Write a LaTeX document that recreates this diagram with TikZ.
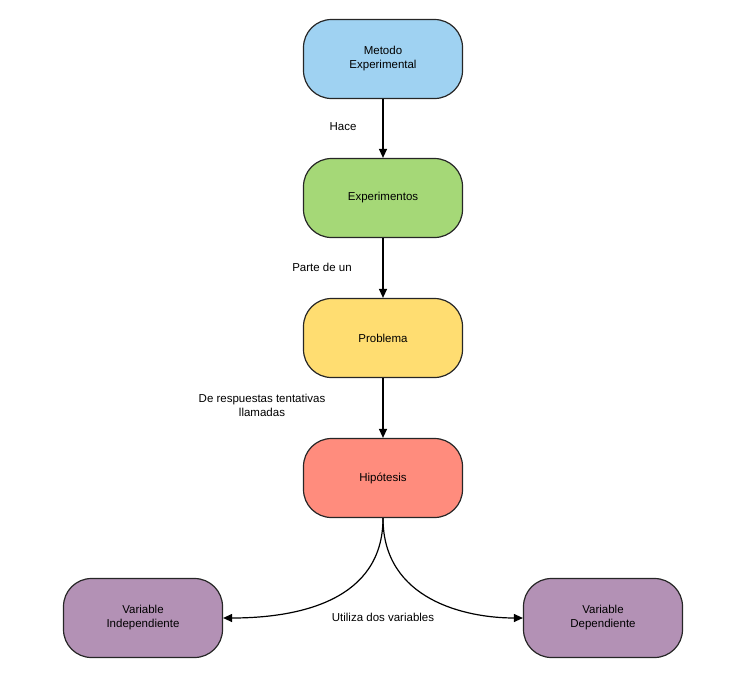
\documentclass[tikz,border=0pt]{standalone}
\usepackage{fontspec}
\setmainfont{Liberation Sans}
\usetikzlibrary{arrows.meta}
\begin{document}
\begin{tikzpicture}[x=1pt,y=-1pt,
 box/.style={draw=black!85,line width=1.2pt,rounded corners=28pt,minimum width=159pt,minimum height=79pt,align=center,font=\fontsize{11.5}{14}\selectfont},
 lab/.style={font=\fontsize{11.5}{14}\selectfont,align=center},
 arr/.style={line width=1.2pt,-{Triangle[length=9pt,width=8pt]}}]
\useasboundingbox (0,0) rectangle (737,678);
\definecolor{cb}{HTML}{9FD2F2}\definecolor{cg}{HTML}{A5D877}\definecolor{cy}{HTML}{FFDD71}
\definecolor{cr}{HTML}{FF8C7D}\definecolor{cp}{HTML}{B391B5}
\node[box,fill=cb] (m) at (383,59) {Metodo\\Experimental};
\node[box,fill=cg] (e) at (383,198) {Experimentos};
\node[box,fill=cy] (p) at (383,338) {Problema};
\node[box,fill=cr] (h) at (383,478) {Hipótesis};
\node[box,fill=cp] (vi) at (143,618) {Variable\\Independiente};
\node[box,fill=cp] (vd) at (603,618) {Variable\\Dependiente};
\draw[arr] (m) -- (e);
\draw[arr] (e) -- (p);
\draw[arr] (p) -- (h);
\draw[arr] (h.south) .. controls (383,600) and (300,618) .. (vi.east);
\draw[arr] (h.south) .. controls (383,600) and (466,618) .. (vd.west);
\node[lab] (l1) at (343,127) {Hace};
\node[lab] (l2) at (322,267) {Parte de un};
\node[lab] (l3) at (262,405) {De respuestas tentativas\\llamadas};
\node[lab] (l4) at (383,617) {Utiliza dos variables};
\end{tikzpicture}
\end{document}
